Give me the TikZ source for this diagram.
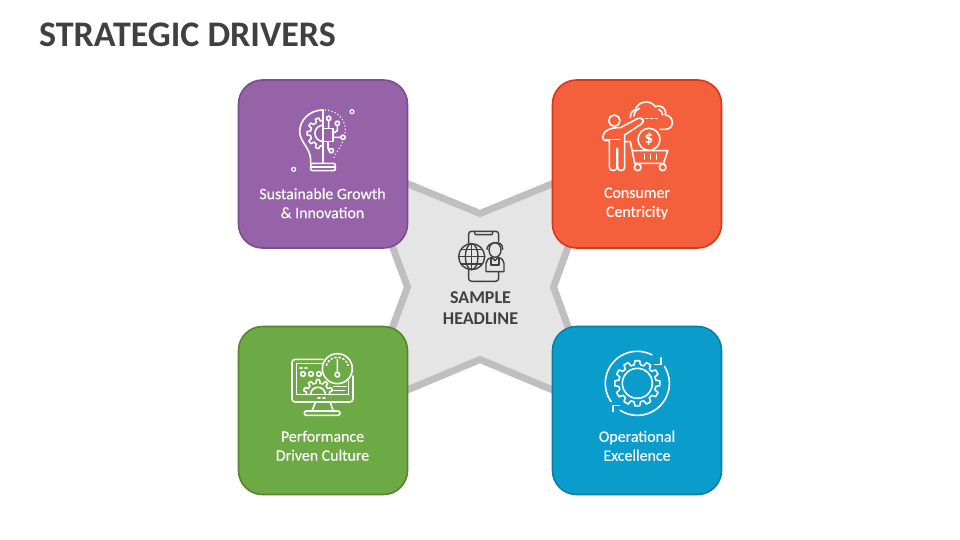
\documentclass[tikz,border=0pt]{standalone}
\usepackage{fontspec}
\setmainfont{Carlito}
\newfontfamily\cardfont{Carlito}[FakeBold=0.25]
\definecolor{ink}{HTML}{404040}
\definecolor{pur}{HTML}{9763A8}\definecolor{purd}{HTML}{7A4F8C}
\definecolor{ora}{HTML}{F4603C}\definecolor{orad}{HTML}{D9371A}
\definecolor{gre}{HTML}{6DA944}\definecolor{gred}{HTML}{558433}
\definecolor{blu}{HTML}{0A9DCC}\definecolor{blud}{HTML}{0C7EA3}
\usetikzlibrary{calc}
\tikzset{
 card/.style={rounded corners=24pt,line width=1.6pt},
 cardtext/.style={text=white,font=\cardfont\fontsize{15.9}{19}\selectfont,align=center,inner sep=0pt},
 icon/.style={draw=white,line width=1.6pt,line cap=round,line join=round,fill=none},
 darkicon/.style={draw=ink,line width=1.4pt,line cap=round,line join=round,fill=none},
}
% partial gear: cx, cy, outer R, inner r, list of tooth angles, half width, first angle, last angle, style
\newcommand{\partgear}[9]{%
 \draw[#9] plot coordinates {({#1+#4*cos(#7)},{#2+#4*sin(#7)})}
  \foreach \ga in {#5}{
   -- ({#1+#4*cos(\ga-10)},{#2+#4*sin(\ga-10)})
   -- ({#1+#3*cos(\ga-#6)},{#2+#3*sin(\ga-#6)})
   -- ({#1+#3*cos(\ga+#6)},{#2+#3*sin(\ga+#6)})
   -- ({#1+#4*cos(\ga+10)},{#2+#4*sin(\ga+10)})
  } -- ({#1+#4*cos(#8)},{#2+#4*sin(#8)});}
\newcommand{\ringarc}[6]{\draw[#6] plot[domain=#4:#5,samples=50,smooth] ({#1+#3*cos(\x)},{#2+#3*sin(\x)});}
\begin{document}
\begin{tikzpicture}[x=1pt,y=-1pt]
\useasboundingbox (0,0) rectangle (960,540);
\node[anchor=west,text=ink,font=\fontsize{36}{40}\selectfont\bfseries,inner sep=0pt] (title) at (39,34.5) {STRATEGIC DRIVERS};
% star
\draw[fill=black!10,draw=black!25,line width=7pt,miter limit=10] (362,165) -- (480,213.5) -- (598,165) -- (553.5,287) -- (598,409) -- (480,359.5) -- (362,409) -- (407.5,287) -- cycle;
% cards
\draw[card,fill=pur,draw=purd] (238.5,80) rectangle (407.5,248);
\draw[card,fill=ora,draw=orad] (552.5,80) rectangle (721.5,248);
\draw[card,fill=gre,draw=gred] (238.5,326.5) rectangle (407.5,494.5);
\draw[card,fill=blu,draw=blud] (552.5,326.5) rectangle (721.5,494.5);
\node[cardtext] (t1) at (322.5,203.2) {Sustainable Growth\\\& Innovation};
\node[cardtext] (t2) at (637,203.5) {Consumer\\Centricity};
\node[cardtext] (t3) at (322.5,445.8) {Performance\\Driven Culture};
\node[cardtext] (t4) at (637,445.8) {Operational\\Excellence};
\node[text=ink,font=\fontsize{18}{21}\selectfont\bfseries,align=center,inner sep=0pt] (c) at (480.5,308.3) {SAMPLE\\HEADLINE};
% icon 1 bulb
\begin{scope}[shift={(238,80)},scale=1/3]
\draw[icon] (255,90) .. controls (215,90) and (185,120) .. (185,155) .. controls (185,185) and (218,205) .. (218,240) -- (218,250);
\draw[icon] (255,90) -- (255,250);
\draw[icon,rounded corners=2pt] (218,250) rectangle (292,272);
\draw[icon] (218,261) -- (292,261);
\ringarc{255}{160}{24}{90}{270}{icon}
\partgear{255}{160}{48}{38}{112,146,180,214,248}{6}{90}{270}{icon}
\draw[icon] (255,145) rectangle (285,185);
\draw[icon] (272,115) circle (6.5) (272,122) -- (272,145);
\draw[icon] (298,130) circle (6.5) (298,137) -- (298,152) -- (285,160);
\draw[icon] (315,172) circle (6.5) (308,172) -- (285,172);
\draw[icon] (280,212) circle (6.5) (273,212) -- (270,204) -- (270,185);
\draw[icon,dash pattern=on 0pt off 3.4pt] (262,90) .. controls (300,92) and (322,120) .. (322,150) .. controls (322,190) and (295,210) .. (285,240);
\draw[icon,line width=1.2pt] (342,95) circle (6);
\draw[icon,line width=1.2pt] (167,268) circle (6);
\end{scope}
% icon 2 consumer
\begin{scope}[shift={(552,80)},scale=1/3]
\draw[icon] (187,122) circle (17);
\draw[icon] (195,205) -- (195,262) .. controls (195,275) and (172,275) .. (172,262) -- (172,182) -- (160,182) .. controls (150,180) and (150,165) .. (160,155) .. controls (170,145) and (190,142) .. (205,143) -- (258,115) .. controls (275,112) and (278,125) .. (268,132) -- (218,165) -- (218,262) .. controls (218,275) and (197,275) .. (197,262) -- (197,205);
\draw[icon] (162,178) -- (205,178);
\draw[icon] (235,112) .. controls (235,95) and (245,90) .. (250,90) .. controls (258,62) and (295,58) .. (310,80) .. controls (325,72) and (345,85) .. (340,105) .. controls (368,108) and (368,148) .. (340,148) -- (324,148);
\draw[icon] (246,108) .. controls (246,95) and (255,88) .. (262,85);
\draw[icon] (320,88) .. controls (328,92) and (332,98) .. (332,105);
\draw[icon,dash pattern=on 2.5pt off 2.5pt] (280,115) -- (315,115);
\draw[icon] (291,178) circle (33);
\node[text=white,font=\fontsize{17}{17}\selectfont\bfseries,inner sep=0pt] (dollar) at (291,178) {\$};
\draw[icon] (218,185) -- (235,185) -- (248,250) -- (335,250) -- (347,212) -- (240,212);
\draw[icon] (257,262) circle (10) (332,262) circle (10);
\draw[icon] (278,223) -- (278,238) (295,223) -- (295,238) (313,223) -- (313,238);
\end{scope}
% icon 3 performance
\begin{scope}[shift={(238,326)},scale=1/3]
\draw[icon] (255,100) -- (172,100) .. controls (165,100) and (162,104) .. (162,110) -- (162,218) .. controls (162,224) and (166,228) .. (172,228) -- (335,228) .. controls (342,228) and (345,224) .. (345,218) -- (345,150);
\draw[icon] (255,112) -- (176,112) -- (176,206) -- (332,206) -- (332,165);
\draw[icon] (232,230) -- (222,255) (277,230) -- (286,255);
\draw[icon,rounded corners=2pt] (199,255) rectangle (306,268);
\draw[icon,dash pattern=on 2pt off 3pt] (240,216) -- (270,216);
\draw[icon,dash pattern=on 2pt off 3pt] (186,126) -- (216,126);
\draw[icon] (195,144) circle (7) (219,144) circle (7) (243,144) circle (7);
\draw[icon] (298,128) circle (45);
\draw[icon] (298,100) -- (298,139) (298,146) circle (7);
\draw[icon,dash pattern=on 1.5pt off 2.5pt] plot[domain=197:343,samples=40,smooth] ({298+34*cos(\x)},{128+34*sin(\x)});
\ringarc{240}{206}{22}{180}{360}{icon}
\partgear{240}{206}{45}{35}{202,236,270,304,338}{6}{180}{360}{icon}
\draw[icon] (288,181) -- (325,181) (288,194) -- (320,194);
\end{scope}
% icon 4 operational
\begin{scope}[shift={(552,326)},scale=1/3]
\partgear{256}{172}{68}{56}{0,30,60,90,120,150,180,210,240,270,300,330}{6}{-15}{-15}{icon}
\draw[icon] (256,172) circle (45);
\ringarc{256}{172}{96}{145}{297}{icon}
\ringarc{256}{172}{96}{-32}{122}{icon}
\draw[icon,line cap=butt] (305,115) -- (327,115) -- (327,93);
\draw[icon,line cap=butt] (205,238) -- (183,238) -- (183,258);
\end{scope}
% centre icon
\begin{scope}[shift={(380,170)},scale=1/3]
\draw[darkicon] (300,334) -- (275,334) .. controls (269,334) and (266,330) .. (266,325) -- (266,300);
\draw[darkicon] (266,222) -- (266,192) .. controls (266,187) and (270,184) .. (275,184) -- (347,184) .. controls (352,184) and (356,187) .. (356,192) -- (356,214);
\draw[darkicon] (356,306) -- (356,325) .. controls (356,330) and (352,334) .. (347,334) -- (300,334);
\draw[darkicon] (283,184) -- (286,194) -- (336,194) -- (339,184);
\draw[darkicon] (275,260) circle (39);
\draw[darkicon] (275,260) ellipse (19 and 39);
\draw[darkicon] (275,221) -- (275,299) (236,260) -- (314,260) (243,238) -- (307,238) (243,282) -- (307,282);
\draw[darkicon] (345,240) circle (18 and 22);
\draw[darkicon] (321,238) .. controls (318,218) and (370,205) .. (368,238);
\draw[darkicon] (318,305) -- (318,280) .. controls (318,270) and (325,266) .. (335,262) -- (345,272) -- (355,262) .. controls (365,266) and (372,270) .. (372,280) -- (372,305) -- cycle;
\draw[darkicon] (333,265) -- (333,285) -- (357,285) -- (357,265);
\end{scope}
\end{tikzpicture}
\end{document}
